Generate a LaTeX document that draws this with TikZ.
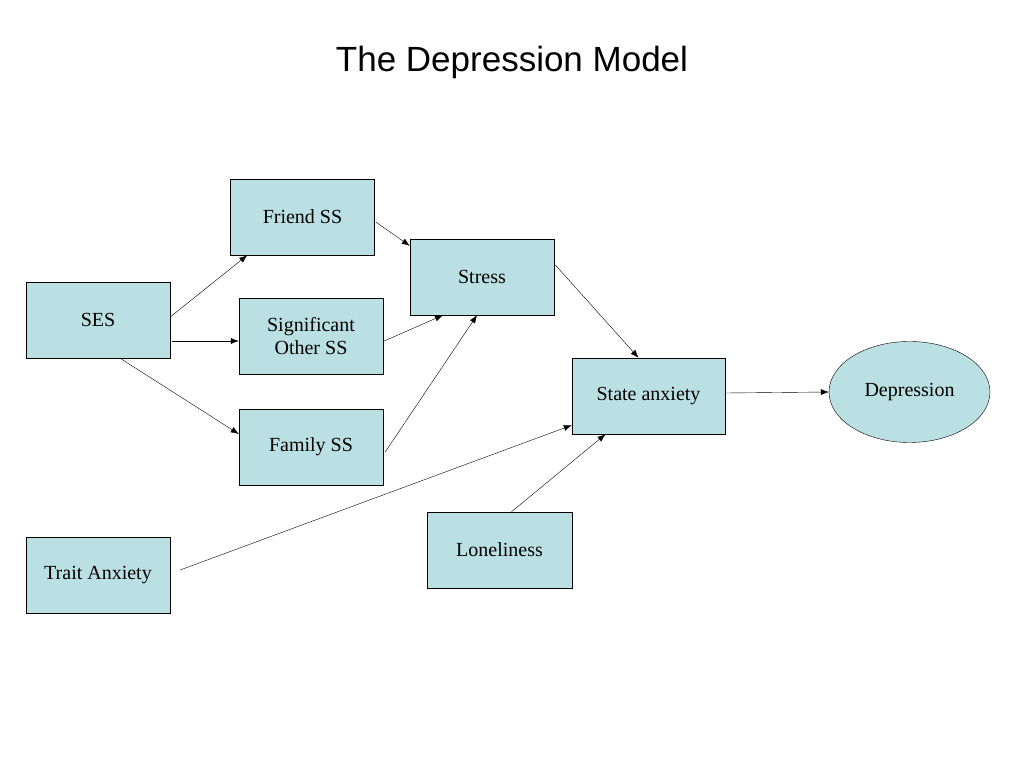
\documentclass[tikz,border=0pt]{standalone}
\usepackage{fontspec}
\setmainfont{Liberation Serif}
\newfontfamily\titlefont{Liberation Sans}
\usetikzlibrary{arrows.meta, positioning, shapes.geometric}
\definecolor{boxfill}{RGB}{187,224,227}
\tikzset{
  box/.style={draw, fill=boxfill, minimum width=144pt, minimum height=76pt, align=center, font=\fontsize{20}{23}\selectfont},
  oval/.style={draw, fill=boxfill, ellipse, minimum width=161pt, minimum height=101pt, font=\fontsize{20}{23}\selectfont},
  link/.style={-{Latex[length=8pt,width=6pt]}, thin}
}
\begin{document}
\begin{tikzpicture}[x=1pt, y=1pt]
  \useasboundingbox (0,0) rectangle (1024,768);
  \node[font=\titlefont\fontsize{35}{40}\selectfont] (title) at (512,706) {The Depression Model};
  % boxes
  \node[box] (friend) at (302.5,551) {Friend SS};
  \node[box] (ses) at (98,448) {SES};
  \node[box] (sig) at (311,432) {Significant\\Other SS};
  \node[box] (family) at (311,321) {Family SS};
  \node[box] (stress) at (482,491) {Stress};
  \node[box, minimum width=153pt] (state) at (648.5,372) {State anxiety};
  \node[oval] (depr) at (909.5,376) {Depression};
  \node[box] (trait) at (98,193) {Trait Anxiety};
  \node[box, minimum width=145pt] (lonely) at (499.5,218) {Loneliness};
  % arrows
  \draw[link] ([yshift=3]ses.east) -- ([xshift=17]friend.south west);
  \draw[link] ([yshift=-21,xshift=2]ses.east) -- ([yshift=-5]sig.west);
  \draw[link] ([xshift=22]ses.south) -- ([yshift=13]family.west);
  \draw[link] ([yshift=-5,xshift=1]friend.east) -- ([yshift=-7]stress.north west);
  \draw[link] ([yshift=-5,xshift=1]sig.east) -- ([xshift=-39]stress.south);
  \draw[link] ([yshift=-5,xshift=2]family.east) -- ([xshift=-5]stress.south);
  \draw[link] ([yshift=-26,xshift=1]stress.north east) -- ([xshift=-10]state.north);
  \draw[link] ([yshift=3,xshift=1]state.east) -- (depr.west);
  \draw[link] ([xshift=10,yshift=5]trait.east) -- ([yshift=9]state.south west);
  \draw[link] ([xshift=12]lonely.north) -- ([xshift=-43]state.south);
\end{tikzpicture}
\end{document}
